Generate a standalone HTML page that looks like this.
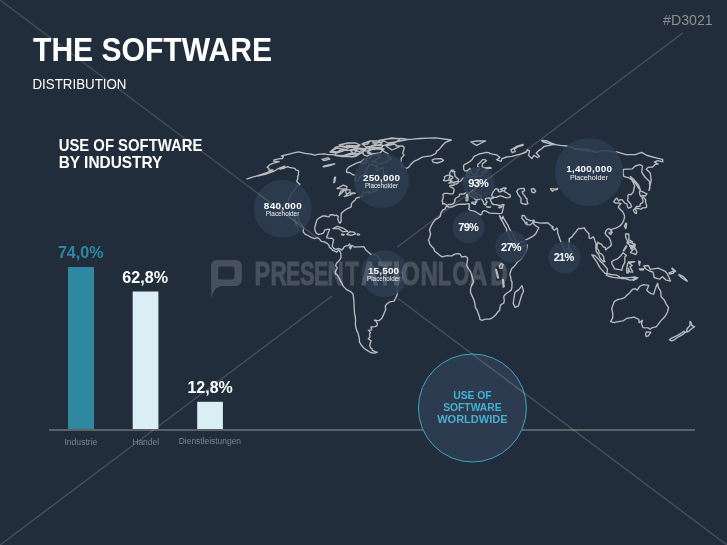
<!DOCTYPE html>
<html><head><meta charset="utf-8">
<style>
html,body{margin:0;padding:0;background:#212d3b;width:727px;height:545px;overflow:hidden}
svg{display:block;will-change:transform}
text{font-family:"Liberation Sans",sans-serif}
</style></head>
<body>
<svg width="727" height="545" viewBox="0 0 727 545">
<rect width="727" height="545" fill="#212d3b"/>

<!-- MAP -->
<g fill="none" stroke="#b8bbbf" stroke-width="1.35" stroke-linejoin="round">
<path d="M256.2 176.1L262.3 174.2L268.2 172.2L272.8 169.9L269.0 170.1L268.9 168.3L267.1 167.3L270.0 164.6L272.9 163.3L279.2 161.6L276.8 161.3L273.8 161.3L274.0 159.9L280.1 158.6L282.5 158.6L283.3 156.8L281.4 156.0L288.0 154.3L294.8 152.7L298.5 151.9L302.1 152.7L305.1 153.4L311.3 154.2L314.7 155.1L317.9 154.3L324.4 153.8L328.1 154.6L332.6 154.7L337.2 155.8L342.3 156.5L347.7 156.5L353.3 156.8L356.9 155.8L363.0 151.4L363.0 153.8L364.7 155.4L367.3 156.1L370.7 154.0L372.1 155.4L370.6 157.9L365.3 159.0L362.0 161.7L359.4 162.2L356.0 163.3L352.5 165.1L349.1 166.8L346.5 169.9L346.7 172.5L349.7 172.5L352.4 174.5L354.9 175.2L356.6 175.8L355.0 178.8L355.6 181.3L357.9 180.2L360.0 176.3L363.5 174.8L366.1 171.8L366.2 169.5L368.4 166.8L369.2 164.6L372.7 164.6L375.4 165.8L377.7 166.5L375.8 169.5L377.6 170.6L381.3 168.3L383.1 167.7L383.3 171.0L383.4 173.7L384.7 175.2L386.6 176.3L387.8 178.3L387.0 180.2L384.8 181.1L380.5 183.0L376.1 182.8L372.1 183.3L369.0 184.7L374.1 185.2L372.2 187.5L372.1 189.1L375.7 190.2L377.9 189.6L376.0 191.2L372.5 191.8L368.7 193.3L369.4 191.2L367.2 192.0L363.1 193.4L361.7 195.5L362.2 196.3L360.0 197.0L356.1 198.2L355.1 200.2L353.6 201.1L351.5 203.7L351.1 206.8L348.7 208.1L346.3 209.2L343.6 211.2L341.2 213.4L341.0 218.0L341.2 221.1L340.1 223.2L339.1 222.5L338.6 221.1L337.8 218.9L338.2 216.7L336.9 215.2L334.6 215.7L332.8 214.7L330.3 214.7L328.9 216.8L327.4 216.7L325.5 216.0L322.7 215.9L318.6 218.3L316.9 219.9L316.1 222.7L314.7 227.5L315.2 230.8L316.0 232.9L318.2 234.5L321.1 233.9L323.4 233.2L324.8 230.0L328.3 229.2L329.7 229.3L328.6 231.9L327.8 234.3L326.6 237.6L329.1 238.4L332.0 238.2L333.7 239.7L332.7 243.7L332.3 246.3L333.9 248.6L336.3 249.4L338.2 248.4L340.4 249.1L341.5 250.1L343.0 248.9L344.1 246.8L345.7 246.0L347.9 245.7L349.7 243.9L350.4 246.2L349.4 247.5L350.5 248.9L351.8 245.4L354.3 247.0L357.9 246.8L360.8 246.8L364.0 246.7L365.0 248.6L366.0 250.2L368.5 252.3L370.6 254.3L373.5 254.4L375.6 255.1L377.8 256.2L378.9 257.8L380.6 261.1L380.3 264.0L382.8 265.6L385.7 265.6L388.6 268.1L393.0 268.7L397.4 270.0L399.6 271.8L402.1 272.6L402.8 277.0L401.8 279.9L399.6 282.3L397.9 285.1L397.3 287.5L397.5 292.4L396.8 295.8L395.3 298.8L394.1 301.1L392.3 301.3L389.2 302.2L386.6 304.2L385.3 306.1L385.7 309.9L384.5 312.3L383.4 315.1L381.9 317.8L380.8 319.3L379.0 320.6L376.9 320.4L374.4 320.1L376.3 321.5L377.4 323.6L376.9 325.9L374.6 326.7L371.0 327.0L371.6 329.8L368.4 330.4L370.5 332.6L369.5 334.1L370.1 336.8L368.2 338.7L371.1 340.8L370.2 343.5L369.7 345.5L370.6 347.8L372.1 348.9L372.3 350.3L375.7 351.9L377.4 352.2L375.6 352.9L374.0 353.2L370.5 352.5L366.8 350.1L364.0 348.3L361.2 345.0L359.4 341.9L359.4 339.2L358.7 336.0L358.0 332.8L357.0 331.2L356.0 328.0L355.3 324.3L355.6 321.2L355.4 317.5L354.5 313.4L354.2 308.6L354.1 304.5L353.9 302.1L353.6 298.0L352.9 293.7L351.0 291.9L346.3 289.4L343.4 286.4L341.9 283.4L339.7 279.4L337.6 275.3L335.4 273.6L335.2 271.5L336.7 269.3L337.1 267.6L335.6 265.6L336.8 262.7L338.4 261.4L340.2 259.1L341.0 257.5L340.9 253.5L340.2 251.8L338.6 249.9L336.6 252.2L334.7 251.0L333.0 250.4L331.0 248.4L329.2 247.0L329.3 245.7L327.5 243.6L325.7 242.6L323.7 241.6L321.4 241.3L319.0 238.6L317.4 237.7L314.7 238.6L311.9 237.7L310.1 236.8L308.0 235.5L305.3 234.3L303.1 231.9L303.4 229.2L303.4 227.0L301.8 224.3L299.3 222.5L298.8 218.9L297.1 216.5L296.8 213.4L295.0 212.6L294.5 215.4L295.6 217.8L296.0 221.1L297.1 224.6L297.6 226.9L296.5 225.4L295.0 223.6L295.3 221.1L293.6 218.9L293.4 215.9L292.5 212.9L292.2 211.3L291.4 208.9L288.8 207.9L289.5 205.3L288.8 202.8L288.2 200.8L288.6 198.6L290.5 196.0L291.6 193.6L295.2 189.3L296.7 186.0L299.4 185.2L299.9 184.1L298.5 183.3L297.4 182.0L296.7 181.0L297.9 178.6L297.5 176.6L298.6 174.8L298.4 173.3L298.7 171.0L297.4 170.3L295.8 169.8L294.8 168.3L292.1 167.8L289.2 167.4L287.8 166.7L283.5 168.3L280.1 169.2L284.9 166.2L280.7 167.7L277.2 169.2L274.4 171.0L270.1 172.7L265.3 174.3L261.6 175.2L258.7 175.8L256.2 176.1ZM256.2 176.1L251.8 177.4L246.5 179.2M392.9 143.4L396.1 144.8L396.3 146.0L402.6 146.0L404.2 147.5L403.5 150.5L402.7 153.1L404.1 155.1L401.4 157.9L401.1 161.4L401.5 165.1L402.3 166.8L406.3 168.3L408.5 167.3L410.9 164.3L413.8 161.4L417.3 159.9L422.9 156.8L430.8 155.8L435.8 153.5L436.7 151.1L439.4 149.2L441.3 146.8L443.1 144.8L445.4 142.4L451.4 140.0L447.6 139.5L441.5 138.7L435.5 137.9L427.7 138.1L420.4 138.5L412.8 139.2L407.2 139.5L402.5 140.5L396.5 141.8ZM330.0 152.0L336.0 147.0L343.0 146.0L349.0 148.0L343.0 151.0L336.0 153.0ZM339.0 145.0L348.0 143.0L356.0 143.0L360.0 145.0L352.0 147.0L343.0 147.0ZM350.0 150.0L358.0 148.0L366.0 149.0L362.0 153.0L354.0 154.0ZM362.0 144.0L370.0 141.0L378.0 141.0L382.0 144.0L374.0 146.0L366.0 147.0ZM368.0 151.0L376.0 148.0L384.0 149.0L380.0 153.0L372.0 154.0ZM382.0 140.0L392.0 138.0L400.0 139.0L396.0 142.0L388.0 143.0ZM386.0 146.0L394.0 144.0L399.0 147.0L392.0 150.0ZM345.0 155.0L352.0 153.0L358.0 155.0L351.0 157.0ZM371.1 149.6L379.7 148.9L382.5 150.2L385.9 152.7L388.1 153.8L387.8 156.5L391.4 158.3L387.9 160.3L385.2 162.9L381.9 163.6L378.3 163.9L375.3 161.7L371.6 161.7L375.5 160.0L380.3 157.2L378.2 155.1L373.5 154.4L370.6 153.5L367.5 153.0L368.3 150.7ZM340.3 150.1L348.5 150.3L354.7 149.8L355.9 151.4L352.9 154.4L347.0 155.1L339.5 155.7L335.1 154.9L336.6 152.4ZM336.5 148.1L344.0 149.2L337.5 151.8L331.5 151.3ZM374.2 144.8L383.2 145.7L390.3 143.3L398.0 141.2L407.4 139.3L401.6 138.3L388.0 138.8L378.8 140.3L378.4 142.4ZM372.0 145.4L383.1 145.8L381.3 147.7L369.5 147.7ZM365.2 148.5L370.7 148.5L368.0 150.7L363.3 151.1ZM357.4 148.8L363.5 149.2L359.5 151.8L355.9 150.5ZM346.7 145.4L359.2 146.0L356.9 147.2L344.9 147.7ZM373.5 141.0L383.4 140.7L382.0 142.4L372.9 143.0ZM364.0 159.3L368.3 161.4L362.5 163.9L360.5 162.2ZM363.7 143.0L369.2 142.4L367.5 144.2L362.3 144.6ZM447.0 205.7L446.1 204.7L444.7 203.7L442.5 204.0L442.9 201.9L442.0 201.1L443.3 197.6L443.0 194.4L444.8 193.3L447.5 193.4L450.1 193.8L453.0 193.8L453.7 192.0L454.1 189.6L452.9 187.9L450.0 186.6L449.8 185.7L452.1 185.2L454.0 185.3L454.0 183.8L456.2 184.1L458.0 183.0L458.5 181.7L460.7 181.1L462.0 179.4L462.7 178.2L465.2 177.9L467.0 177.2L467.5 175.5L466.8 174.3L467.4 172.4L469.8 171.5L469.4 173.3L469.9 174.5L468.9 175.8L470.0 177.1L472.0 176.5L473.8 177.2L476.8 176.3L479.3 175.8L480.5 176.5L482.5 175.2L482.2 172.8L483.3 171.6L486.2 172.2L486.0 170.6L484.9 169.2L487.8 168.6L491.3 168.1L489.8 167.3L487.1 167.6L483.7 168.0L482.2 166.5L482.3 163.9L484.5 162.2L486.4 160.7L484.8 159.6L482.6 159.7L481.1 161.4L479.5 162.9L477.9 164.3L477.6 166.1L479.0 167.7L479.5 169.0L477.1 170.4L476.8 172.5L476.0 173.9L474.0 174.9L472.5 174.3L471.4 171.8L470.5 169.5L469.7 168.3L468.9 169.5L466.7 170.9L464.9 170.9L463.8 169.6L463.6 167.6L463.6 165.4L464.8 164.3L467.7 162.9L470.0 161.4L472.2 159.6L473.3 157.5L474.9 155.8L477.0 155.1L479.1 154.0L481.7 153.4L483.7 153.0L486.1 152.3L488.9 152.6L490.0 153.7L496.6 154.8L499.9 157.5L496.6 159.7L501.0 161.4L502.1 158.6L506.5 157.0L512.0 156.4L517.5 154.8L521.9 153.7L526.3 152.0L527.4 149.8L529.6 150.9L528.5 155.3L531.8 158.6L534.0 155.3L537.3 157.5L539.5 156.4L536.2 153.1L538.4 150.9L541.7 148.7L543.9 146.5L549.4 145.4L553.8 144.3L560.4 145.4L567.0 146.0L575.0 148.1L586.0 150.3L594.8 151.4L573.3 149.2L578.0 149.3L583.3 149.2L587.6 149.4L591.1 151.1L595.2 152.4L599.0 151.8L601.8 150.7L608.1 150.9L613.9 151.8L616.8 151.8L626.0 154.6L635.2 154.6L641.6 152.3L647.1 155.5L658.1 158.3L662.7 159.4L662.7 161.9L658.1 160.6L654.4 162.0L658.1 164.2L655.4 164.3L652.6 167.0L648.0 167.4L646.2 169.3L650.3 173.0L651.2 180.3L649.0 190.4L649.9 188.5L649.4 181.2L645.3 177.5L641.6 172.0L642.5 166.0L639.8 164.7L635.2 166.0L632.4 168.8L623.3 169.3L623.4 170.3L623.1 173.3L623.8 176.3L626.2 177.1L629.5 178.2L632.0 180.2L633.5 183.3L634.8 185.7L634.1 188.0L633.3 192.0L630.8 194.7L628.7 194.4L627.9 195.4L628.0 197.6L627.6 200.5L630.6 204.0L631.5 206.5L630.8 207.4L628.4 208.2L627.3 206.0L626.9 204.0L624.5 202.8L622.4 199.8L620.0 199.7L618.6 201.0L616.9 198.1L615.7 198.9L614.4 200.7L613.6 201.6L615.9 203.2L618.2 202.8L621.0 203.6L619.2 205.2L618.4 207.3L620.5 209.7L622.7 211.8L623.7 213.8L624.5 215.7L624.4 218.0L623.6 220.6L622.8 222.3L621.7 224.1L619.9 225.9L618.0 227.0L616.3 227.9L614.0 228.7L611.9 229.2L611.1 230.9L610.1 229.2L608.3 228.8L606.1 230.5L605.1 233.2L606.3 235.2L609.3 238.1L611.0 242.1L611.3 245.0L609.7 246.7L607.7 248.1L605.6 249.9L605.3 247.3L603.2 247.0L601.6 244.4L599.3 243.4L597.8 242.1L597.0 245.4L597.1 248.6L598.6 250.4L599.4 253.0L601.7 254.1L603.6 256.7L603.9 259.9L604.9 261.7L603.8 261.9L601.6 259.9L599.8 257.8L598.9 255.1L596.2 251.4L595.9 247.8L595.9 243.7L594.3 238.9L593.3 236.8L590.9 238.4L589.2 238.1L589.0 234.0L587.3 231.9L585.4 230.0L584.4 227.9L582.7 228.2L581.2 228.7L579.0 228.3L577.5 229.6L575.5 232.4L573.3 234.8L571.7 237.1L569.1 238.9L569.2 242.9L568.9 246.2L568.2 247.5L566.7 249.7L565.8 250.9L564.3 249.4L562.6 245.4L561.4 242.9L560.1 239.7L558.6 235.6L557.8 233.2L557.6 230.0L556.9 228.0L554.3 230.3L552.0 227.9L553.3 226.9L551.2 225.8L549.1 224.1L547.9 222.8L544.4 223.0L541.0 223.2L538.0 222.7L534.9 222.2L533.9 220.1L532.2 220.6L530.1 220.7L526.4 218.8L524.3 215.7L522.2 215.5L521.7 218.1L523.7 220.2L525.0 222.2L525.8 224.0L526.8 222.2L527.0 224.6L530.4 224.8L532.4 223.0L533.4 221.4L533.9 224.3L535.4 225.6L537.7 227.0L538.8 227.7L537.2 230.8L536.1 233.2L534.6 235.0L533.0 236.1L528.6 238.6L524.8 240.2L522.7 241.3L519.1 242.6L516.3 243.6L515.8 242.1L515.0 238.9L513.6 235.6L511.6 232.4L509.6 229.2L508.0 225.4L506.2 222.7L504.0 218.9L502.9 216.2L502.6 218.3L502.1 218.9L501.0 217.8L499.7 215.5L499.8 217.0L501.4 219.8L503.1 222.7L504.6 225.9L506.3 228.3L507.0 232.4L508.8 234.8L510.1 238.4L511.9 240.0L513.5 242.4L516.0 244.9L517.8 247.1L520.7 246.7L524.3 245.8L527.4 244.9L527.2 247.0L526.6 249.4L525.2 252.7L523.1 255.9L520.9 259.1L518.0 261.4L515.4 264.8L513.7 266.9L511.8 268.5L510.7 271.3L509.8 274.5L510.7 277.0L511.0 280.2L512.0 281.8L511.9 287.5L511.1 290.3L507.4 292.8L505.2 294.5L503.7 296.4L504.3 300.5L503.9 302.9L500.6 305.0L500.2 306.9L499.5 310.5L497.5 312.3L496.0 314.6L493.8 316.7L491.6 318.3L489.7 319.1L485.4 319.1L481.9 320.4L479.9 319.4L479.5 316.7L478.3 313.4L477.1 310.2L475.4 307.4L474.4 301.1L472.7 297.2L470.5 292.4L470.5 289.1L471.5 285.9L473.4 281.8L472.5 278.3L471.2 273.7L470.6 271.8L468.6 268.9L466.7 265.6L467.1 262.4L467.6 259.1L467.3 257.5L465.7 256.5L463.5 256.7L461.8 257.0L459.9 253.8L457.7 253.6L454.8 254.1L451.9 255.9L449.7 255.9L446.8 255.6L442.4 256.9L439.5 255.1L436.7 252.7L434.5 251.0L433.8 248.6L431.7 246.5L429.6 243.9L429.4 242.0L428.3 240.2L429.7 237.3L430.6 234.0L430.1 232.2L429.5 230.0L431.1 225.9L433.0 222.7L435.5 219.3L437.9 218.3L440.4 216.2L440.6 213.4L442.6 210.2L445.1 208.9L446.5 206.0L449.0 207.0L451.8 207.1L454.6 205.8L457.4 204.7L460.8 204.2L465.6 204.2L468.3 203.6L469.6 204.4L468.9 206.1L469.6 207.3L468.5 208.6L469.3 209.7L470.9 210.7L473.0 210.8L475.5 211.7L478.6 213.8L480.7 214.9L482.1 213.8L482.2 211.8L484.1 210.7L486.2 211.2L489.0 212.8L492.5 213.3L495.9 213.3L498.7 213.6L501.5 213.3L502.2 212.6L502.7 210.5L503.3 208.1L503.6 206.0L504.0 204.7L503.0 204.5L501.0 205.2L499.0 205.5L496.2 204.7L494.1 204.5L492.1 204.0L491.6 202.1L490.5 200.3L490.2 199.2L491.8 198.6L493.7 197.8L493.8 197.3L496.4 197.4L498.9 196.2L501.6 196.0L504.1 197.1L506.4 197.8L509.1 197.6L510.4 196.6L510.1 194.9L508.0 193.8L505.8 192.3L504.1 191.3L505.1 189.4L506.2 188.0L504.0 188.0L501.5 188.8L500.7 189.3L503.0 190.7L501.8 191.2L499.7 192.1L497.8 190.7L499.0 189.8L496.3 188.7L495.1 189.1L494.2 190.6L493.1 192.0L492.2 193.9L491.6 195.2L492.3 196.5L493.7 197.1L492.4 197.6L491.1 198.1L490.0 198.4L489.1 197.8L487.1 198.1L485.8 198.4L485.2 198.9L486.2 200.5L487.2 202.1L485.7 203.2L486.3 204.9L485.3 205.0L484.2 204.4L483.6 202.8L483.2 201.5L482.1 199.8L481.0 198.4L481.0 196.3L479.7 195.2L477.7 193.9L476.1 193.1L475.1 192.0L474.0 190.9L473.4 190.2L471.5 190.7L471.8 192.5L473.3 193.6L474.4 195.7L476.4 196.3L478.0 197.8L479.8 198.9L479.1 199.4L477.7 198.6L477.1 200.3L476.4 202.4L476.0 201.9L476.3 200.0L474.8 198.9L473.5 197.3L471.3 196.3L469.8 195.4L468.7 193.6L466.9 192.1L465.2 193.1L463.5 194.2L461.2 193.8L459.5 194.4L459.4 196.0L458.0 197.0L456.1 197.9L454.5 200.0L455.1 201.1L453.8 203.1L451.7 204.5L448.7 204.5L447.2 205.5ZM516.6 191.5L518.4 189.1L520.2 188.7L524.0 188.3L524.7 190.6L522.1 191.8L523.3 194.4L525.1 196.3L525.8 197.9L527.1 198.7L527.0 201.0L527.9 203.6L525.4 204.5L522.9 203.7L521.2 203.1L520.8 201.1L521.3 198.9L519.5 196.3L518.1 194.6L517.7 193.1ZM448.9 183.1L451.7 182.8L454.9 182.0L457.9 181.4L458.6 179.1L456.9 178.2L456.6 177.7L455.1 176.1L454.9 174.6L454.3 173.6L454.9 171.6L452.2 171.6L453.7 170.1L451.5 170.1L450.3 171.8L449.6 173.1L450.0 175.1L450.9 175.8L452.7 176.9L452.9 178.2L450.8 178.9L451.2 179.9L449.8 180.6L452.3 181.1L450.6 181.7ZM448.9 179.9L449.2 178.2L449.9 176.5L449.3 175.2L448.0 175.1L446.4 175.7L444.4 176.8L444.7 178.2L443.5 180.5L446.1 180.8ZM433.1 162.2L432.1 160.0L434.7 158.8L441.2 158.6L443.5 160.4L441.6 161.7L437.1 163.0ZM470.8 141.8L476.7 141.0L485.7 141.0L481.3 143.0L476.8 145.3L473.5 143.6ZM523.0 144.3L516.4 146.5L510.9 149.8L512.0 152.6L515.3 151.5L514.2 149.3L518.6 146.5L523.0 145.4ZM541.7 140.5L547.2 141.0L551.6 143.2L554.9 144.3L549.0 143.5L543.0 141.8ZM569.0 248.1L572.0 251.8L571.2 254.1L569.5 254.3L569.1 251.0ZM634.6 208.9L636.6 206.5L639.9 206.3L640.5 203.7L642.4 202.8L643.2 200.8L642.1 198.2L643.5 197.1L645.8 200.0L645.4 202.1L646.6 204.9L646.5 207.3L644.7 207.8L642.7 207.9L640.8 209.2L637.4 208.4L635.5 208.9ZM641.3 196.8L639.6 194.1L639.7 190.7L643.1 192.0L646.9 193.9L645.2 196.0L642.1 195.5ZM633.4 209.7L635.1 209.1L636.6 211.3L636.4 213.4L635.3 213.4L633.7 211.0ZM630.4 176.6L633.7 179.4L637.0 183.3L638.2 184.5L640.3 189.6L639.0 188.8L636.7 184.9L633.3 181.0ZM624.5 226.7L625.8 223.0L626.6 223.5L626.1 227.2L625.8 228.5ZM609.0 232.9L611.6 231.4L612.4 232.2L610.7 234.5ZM625.5 234.0L628.7 234.0L628.9 237.3L628.7 239.7L632.3 241.6L632.5 243.3L628.7 241.6L627.3 240.5L625.8 237.6ZM630.4 252.7L632.4 250.1L635.2 248.1L637.0 252.2L635.6 254.6L633.6 253.6ZM627.0 242.1L628.8 242.6L628.6 244.2L627.3 243.6ZM633.0 243.7L635.2 244.1L635.0 246.2L633.9 245.7ZM630.7 246.3L632.1 246.7L631.6 249.3L630.7 248.0ZM629.6 244.9L631.4 245.4L631.2 247.0L629.8 246.7ZM633.2 245.4L634.5 245.8L634.6 247.8L633.8 247.5ZM632.6 245.8L633.0 246.3L632.2 248.4L632.2 247.3ZM611.8 261.6L614.7 259.8L617.6 258.8L621.1 255.4L623.1 252.7L626.5 255.6L624.8 257.0L624.8 262.4L622.7 266.4L621.9 270.2L619.3 269.7L614.7 268.9L613.3 266.4L611.9 264.0ZM591.8 254.9L595.0 255.6L599.5 260.4L603.9 264.8L607.4 268.9L607.0 273.4L605.1 273.4L600.2 268.1L596.6 261.6ZM606.0 275.0L608.0 273.7L610.8 274.5L616.6 275.2L619.4 276.6L619.1 278.1L612.9 277.3L607.9 276.0ZM620.1 277.6L622.3 277.3L626.6 277.8L631.0 277.3L634.6 277.0L637.5 277.8L634.5 279.4L630.1 280.2L625.1 278.6L621.5 278.6ZM626.9 272.9L626.6 269.7L627.6 264.0L628.6 261.9L634.8 261.6L629.3 263.2L632.2 265.5L630.0 266.9L632.8 272.1L629.6 271.8L628.5 268.5L628.2 272.9ZM643.9 265.9L648.2 265.5L650.3 269.3L658.3 268.2L665.2 271.3L667.5 274.2L670.5 281.0L666.3 280.2L662.2 276.6L659.9 279.1L657.7 278.7L654.2 277.5L653.1 272.1L649.5 271.0L645.2 268.5ZM614.4 301.3L618.3 299.4L621.1 298.9L624.7 297.6L626.8 295.2L628.9 293.6L632.4 289.5L635.3 288.7L637.3 290.1L639.7 286.3L640.7 285.9L643.7 284.6L648.7 285.4L647.7 287.9L646.7 290.3L649.2 292.4L651.2 293.6L653.6 294.2L655.9 287.1L657.6 283.3L658.5 287.9L660.7 291.1L660.9 293.6L661.1 296.8L664.3 300.0L666.2 304.1L668.5 307.3L667.6 311.7L665.2 316.2L660.8 320.9L656.2 326.8L652.4 327.6L650.0 329.3L648.2 327.9L642.9 327.6L641.4 323.5L642.5 320.3L639.1 322.7L638.9 319.5L634.2 317.1L626.9 318.3L623.3 320.8L616.7 321.9L614.4 322.7L610.6 321.6L612.7 317.9L612.8 313.8L611.7 308.5L613.4 304.1ZM646.3 331.9L650.9 332.2L648.3 335.9L646.3 336.6L645.5 334.3ZM689.9 321.3L691.4 323.0L691.7 325.5L694.6 326.6L691.1 329.0L689.0 331.1L685.8 332.4L687.1 330.0L686.8 329.0L690.0 325.5ZM684.0 331.1L684.7 333.0L681.7 335.1L677.3 337.5L674.8 339.6L671.8 340.8L669.4 339.9L671.3 338.3L678.1 335.1L681.8 332.7ZM522.0 285.6L523.5 291.2L521.9 294.5L518.5 305.8L515.1 307.4L513.2 303.4L513.9 298.5L514.9 292.4L518.9 289.6ZM332.9 228.5L337.3 226.4L343.4 228.3L347.7 231.3L342.6 231.7L339.1 228.8L335.6 228.3ZM347.1 234.0L349.6 231.7L353.9 232.1L355.7 233.9L351.0 235.3L347.0 234.5ZM341.4 234.2L344.3 234.3L343.5 235.2L341.8 234.8ZM357.4 234.0L359.6 234.3L359.3 234.8L357.3 234.8ZM379.7 187.1L383.8 182.5L387.1 180.8L385.7 184.1L388.6 184.9L387.8 188.3L384.3 188.0L384.0 187.1ZM471.7 202.3L475.9 201.9L475.2 204.5L471.7 203.1ZM466.0 197.6L468.1 197.6L467.7 200.7L466.2 200.8ZM466.6 194.6L467.7 194.4L467.8 196.8L466.7 196.6ZM486.7 206.8L490.6 207.0L488.8 207.3L486.9 207.0ZM498.8 207.3L501.9 206.3L501.0 207.6L499.1 207.8ZM623.3 250.5L626.3 245.7L626.8 246.5L623.8 251.0ZM669.0 272.9L674.2 270.8L673.4 273.4L669.7 274.0ZM672.1 268.1L675.7 271.3L674.9 271.8L671.8 268.5ZM679.1 274.5L682.6 276.2L685.3 278.6L687.2 281.0L685.8 280.5L681.7 277.8L679.0 275.3ZM633.1 279.1L637.9 277.6L635.9 279.2L633.2 280.5ZM638.7 261.1L640.2 261.6L639.5 265.3L638.9 263.2ZM639.4 268.9L643.8 268.9L643.0 270.0L640.1 269.8ZM531.3 189.1L533.7 188.5L535.7 191.2L534.1 192.8L531.9 192.0ZM550.6 188.7L553.2 188.8L555.9 189.1L557.6 188.3L557.3 189.6L554.2 189.9L552.6 191.2L551.3 190.2ZM337.0 188.5L343.3 185.2L347.0 186.6L346.5 188.8L343.2 189.0L338.9 188.7ZM339.0 195.5L344.7 189.9L343.4 189.8L340.6 191.5ZM345.6 189.9L349.9 189.8L350.2 192.0L346.6 194.4L345.9 192.8ZM344.2 196.5L351.0 194.7L349.0 195.2L345.1 196.0ZM350.3 193.9L355.2 193.4L354.4 192.8L351.0 193.1ZM334.5 177.5L335.6 177.2L334.6 182.3L333.8 182.7ZM321.9 159.3L327.9 157.9L329.8 159.0L324.1 160.7ZM323.1 166.5L329.6 164.6L334.8 163.9L329.0 165.8L323.9 166.8ZM499.4 265.9L501.3 263.5L503.1 264.5L502.0 268.4L499.8 268.1ZM495.8 269.3L496.4 269.3L498.6 277.8L497.6 278.1ZM502.7 279.4L503.4 279.9L504.2 286.7L503.2 287.2ZM586.0 180.6L589.1 174.5L589.8 174.6L588.0 181.0Z"/>
</g>

<!-- map circles -->
<g fill="#2c3c50" fill-opacity="0.88">
<circle cx="282.7" cy="208.7" r="29"/>
<circle cx="381.5" cy="180.5" r="27.6"/>
<circle cx="589" cy="172" r="34"/>
<circle cx="478.8" cy="183" r="16"/>
<circle cx="468.6" cy="227.2" r="16"/>
<circle cx="511.3" cy="246.7" r="16"/>
<circle cx="564.5" cy="257.5" r="16"/>
<circle cx="384.6" cy="273.8" r="23.5"/>
</g>

<!-- titles -->
<text x="33" y="61" font-size="34" font-weight="bold" fill="#ffffff" textLength="239" lengthAdjust="spacingAndGlyphs">THE SOFTWARE</text>
<text x="32.5" y="88.5" font-size="14.5" fill="#ffffff" textLength="94" lengthAdjust="spacingAndGlyphs">DISTRIBUTION</text>
<text x="58.7" y="151.2" font-size="17" font-weight="bold" fill="#ffffff" textLength="143.6" lengthAdjust="spacingAndGlyphs">USE OF SOFTWARE</text>
<text x="58.7" y="168" font-size="17" font-weight="bold" fill="#ffffff" textLength="103.7" lengthAdjust="spacingAndGlyphs">BY INDUSTRY</text>
<text x="663" y="25.1" font-size="14.5" fill="#8e8e8e" textLength="49.7" lengthAdjust="spacingAndGlyphs">#D3021</text>

<!-- bars -->
<line x1="49" y1="430" x2="695" y2="430" stroke="#5c6166" stroke-width="2"/>
<rect x="68" y="267" width="26" height="162" fill="#2e889f"/>
<rect x="132.7" y="291.5" width="25.7" height="137.5" fill="#d9eef5"/>
<rect x="197.2" y="401.8" width="25.7" height="27.2" fill="#d9eef5"/>
<text x="57.9" y="258" font-size="16.7" font-weight="bold" fill="#2e889f" textLength="45.6" lengthAdjust="spacingAndGlyphs">74,0%</text>
<text x="122.3" y="282.9" font-size="16.7" font-weight="bold" fill="#ffffff" textLength="45.7" lengthAdjust="spacingAndGlyphs">62,8%</text>
<text x="187.4" y="393.3" font-size="16.7" font-weight="bold" fill="#ffffff" textLength="45.4" lengthAdjust="spacingAndGlyphs">12,8%</text>
<text x="64.4" y="444.6" font-size="8.9" fill="#7c858f" textLength="33" lengthAdjust="spacingAndGlyphs">Industrie</text>
<text x="132.4" y="444.6" font-size="8.9" fill="#7c858f" textLength="26.6" lengthAdjust="spacingAndGlyphs">Handel</text>
<text x="178.8" y="444.4" font-size="8.9" fill="#7c858f" textLength="62.2" lengthAdjust="spacingAndGlyphs">Dienstleistungen</text>

<!-- circle labels -->
<g fill="#ffffff" font-weight="bold" lengthAdjust="spacingAndGlyphs">
<text x="263.8" y="209" font-size="9.9" textLength="37.9">840,000</text>
<text x="362.9" y="181.4" font-size="9.9" textLength="37.1">250,000</text>
<text x="566.2" y="172.1" font-size="9.9" textLength="45.7">1,400,000</text>
<text x="367.9" y="273.8" font-size="9.9" textLength="31.2">15,500</text>
<text x="468.3" y="186.8" font-size="11" textLength="20.6">93%</text>
<text x="458.3" y="230.9" font-size="11" textLength="20.6">79%</text>
<text x="501" y="250.6" font-size="11" textLength="20.6">27%</text>
<text x="553.8" y="260.9" font-size="11" textLength="20.4">21%</text>
</g>
<g fill="#ffffff" fill-opacity="0.92">
<text x="265.7" y="216" font-size="6.3" textLength="33.6" lengthAdjust="spacingAndGlyphs">Placeholder</text>
<text x="364.9" y="188.4" font-size="6.3" textLength="33.1" lengthAdjust="spacingAndGlyphs">Placeholder</text>
<text x="569.9" y="179.8" font-size="7.3" textLength="37.9" lengthAdjust="spacingAndGlyphs">Placeholder</text>
<text x="367" y="280.6" font-size="6.3" textLength="33.4" lengthAdjust="spacingAndGlyphs">Placeholder</text>
</g>

<!-- worldwide circle -->
<circle cx="472.4" cy="408" r="54" fill="#2c3b4f" stroke="#3ea4c2" stroke-width="1"/>
<g fill="#48b0cf" font-weight="bold" text-anchor="middle" font-size="11.2">
<text x="472.4" y="399.1" textLength="38.4" lengthAdjust="spacingAndGlyphs">USE OF</text>
<text x="472.4" y="411" textLength="58.4" lengthAdjust="spacingAndGlyphs">SOFTWARE</text>
<text x="472.4" y="423" textLength="70.4" lengthAdjust="spacingAndGlyphs">WORLDWIDE</text>
</g>

<!-- watermark overlay -->
<g opacity="0.17" fill="#ffffff" stroke="none">
<g stroke="#ffffff" stroke-width="1.3">
<line x1="0" y1="0" x2="316" y2="237"/>
<line x1="398" y1="298.5" x2="727" y2="545"/>
<line x1="0" y1="545" x2="332" y2="296"/>
<line x1="397" y1="247.2" x2="682.8" y2="33"/>
</g>
<path fill-rule="evenodd" d="M211,266.5 Q211,260 217.5,260 L235.5,260 Q241.8,260 241.8,266.5 L241.8,279.5 Q241.8,286 235.5,286 L223,286 C216,286 213,291 211.3,298.7 Z M218.1,268.5 Q218.1,266.6 220,266.6 L232.5,266.6 Q234.4,266.6 234.4,268.5 L234.4,277.5 Q234.4,279.4 232.5,279.4 L220,279.4 Q218.1,279.4 218.1,277.5 Z"/>
<g font-size="33.6" font-weight="bold" stroke="#ffffff" stroke-width="1">
<text transform="translate(254.43 284.7) scale(0.699 1)">P</text>
<text transform="translate(270.49 284.7) scale(0.670 1)">R</text>
<text transform="translate(286.26 284.7) scale(0.620 1)">E</text>
<text transform="translate(299.97 284.7) scale(0.656 1)">S</text>
<text transform="translate(314.26 284.7) scale(0.620 1)">E</text>
<text transform="translate(327.60 284.7) scale(0.668 1)">N</text>
<text transform="translate(345.35 284.7) scale(0.667 1)">T</text>
<text transform="translate(360.91 284.7) scale(0.710 1)">A</text>
<text transform="translate(378.25 284.7) scale(0.657 1)">T</text>
<text transform="translate(392.72 284.7) scale(0.800 1)">I</text>
<text transform="translate(401.23 284.7) scale(0.707 1)">O</text>
<text transform="translate(420.40 284.7) scale(0.714 1)">N</text>
<text transform="translate(437.75 284.7) scale(0.644 1)">L</text>
<text transform="translate(452.52 284.7) scale(0.638 1)">O</text>
<text transform="translate(469.19 284.7) scale(0.740 1)">A</text>
<text transform="translate(490.17 284.7) scale(0.723 1)">D</text>
</g>
</g>
</svg>
</body></html>
